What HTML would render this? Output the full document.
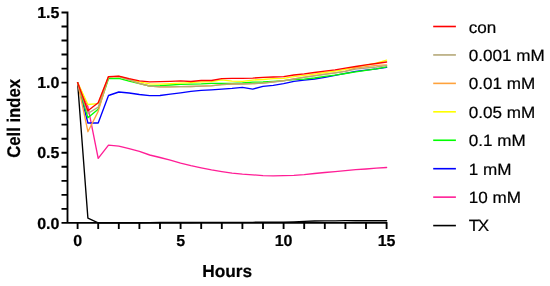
<!DOCTYPE html>
<html><head><meta charset="utf-8"><title>Cell index</title>
<style>html,body{margin:0;padding:0;background:#fff}svg{display:block}text{text-rendering:geometricPrecision;stroke:#000;stroke-width:0.2px;font-family:"Liberation Sans",Arial,sans-serif;fill:#000}</style></head><body>
<svg width="550" height="286" viewBox="0 0 550 286">
<rect width="550" height="286" fill="#fff"/>
<polyline points="77.6,82.6 87.9,218.1 98.2,222.9 108.5,222.9 118.8,222.9 129.1,222.9 139.4,222.8 149.7,222.6 160.0,222.5 170.3,222.5 180.6,222.5 190.9,222.5 201.2,222.3 211.5,222.3 221.8,222.3 232.1,222.3 242.4,222.3 252.7,222.3 263.0,222.2 273.3,222.2 283.6,222.1 293.9,221.8 304.2,221.4 314.5,221.0 324.8,220.9 335.1,220.8 345.4,220.7 355.7,220.7 366.0,220.7 376.3,220.7 386.6,220.7" fill="none" stroke="#000000" stroke-width="1.35" stroke-linejoin="round" stroke-linecap="round"/>
<polyline points="77.6,82.6 87.9,106.7 98.2,158.4 108.5,145.2 118.8,146.2 129.1,148.7 139.4,151.3 149.7,155.0 160.0,157.5 170.3,160.2 180.6,163.1 190.9,165.7 201.2,167.9 211.5,169.9 221.8,171.6 232.1,173.1 242.4,174.1 252.7,174.8 263.0,175.6 273.3,175.9 283.6,175.7 293.9,175.3 304.2,174.6 314.5,173.5 324.8,172.5 335.1,171.6 345.4,170.6 355.7,169.7 366.0,169.0 376.3,168.2 386.6,167.5" fill="none" stroke="#ff1e96" stroke-width="1.35" stroke-linejoin="round" stroke-linecap="round"/>
<polyline points="77.6,82.6 87.9,123.0 98.2,123.0 108.5,95.5 118.8,92.0 129.1,93.0 139.4,94.5 149.7,95.6 160.0,95.5 170.3,94.2 180.6,92.8 190.9,91.3 201.2,90.3 211.5,89.8 221.8,89.1 232.1,88.4 242.4,87.4 252.7,89.1 263.0,86.4 273.3,85.4 283.6,83.6 293.9,81.3 304.2,80.1 314.5,79.0 324.8,77.4 335.1,75.3 345.4,73.3 355.7,71.4 366.0,70.1 376.3,68.9 386.6,67.3" fill="none" stroke="#0000ff" stroke-width="1.35" stroke-linejoin="round" stroke-linecap="round"/>
<polyline points="77.6,82.6 87.9,117.7 98.2,109.3 108.5,78.7 118.8,78.3 129.1,81.2 139.4,83.6 149.7,86.0 160.0,85.7 170.3,85.0 180.6,84.4 190.9,84.1 201.2,83.9 211.5,83.4 221.8,83.4 232.1,83.4 242.4,83.0 252.7,82.2 263.0,82.0 273.3,81.3 283.6,80.6 293.9,79.5 304.2,79.1 314.5,78.0 324.8,76.4 335.1,75.2 345.4,73.5 355.7,71.9 366.0,70.4 376.3,68.9 386.6,66.9" fill="none" stroke="#00ff00" stroke-width="1.35" stroke-linejoin="round" stroke-linecap="round"/>
<polyline points="77.6,82.6 87.9,104.5 98.2,103.6 108.5,76.8 118.8,76.4 129.1,79.1 139.4,81.8 149.7,83.9 160.0,84.1 170.3,83.6 180.6,83.2 190.9,82.6 201.2,81.9 211.5,81.6 221.8,79.8 232.1,81.2 242.4,81.3 252.7,80.1 263.0,79.5 273.3,78.7 283.6,78.3 293.9,76.6 304.2,75.4 314.5,74.2 324.8,72.5 335.1,71.1 345.4,69.4 355.7,66.9 366.0,65.2 376.3,63.1 386.6,60.2" fill="none" stroke="#ffff00" stroke-width="1.35" stroke-linejoin="round" stroke-linecap="round"/>
<polyline points="77.6,82.6 87.9,131.7 98.2,111.4 108.5,77.0 118.8,76.6 129.1,79.8 139.4,83.4 149.7,86.2 160.0,86.8 170.3,86.8 180.6,86.7 190.9,86.5 201.2,86.2 211.5,85.7 221.8,84.6 232.1,84.0 242.4,83.9 252.7,83.6 263.0,83.2 273.3,81.9 283.6,80.6 293.9,78.8 304.2,77.1 314.5,75.7 324.8,74.2 335.1,72.8 345.4,71.2 355.7,68.0 366.0,66.7 376.3,65.3 386.6,64.9" fill="none" stroke="#ffa23c" stroke-width="1.35" stroke-linejoin="round" stroke-linecap="round"/>
<polyline points="77.6,82.6 87.9,113.5 98.2,107.2 108.5,76.8 118.8,76.4 129.1,79.7 139.4,83.4 149.7,86.2 160.0,86.8 170.3,86.8 180.6,86.7 190.9,86.5 201.2,86.1 211.5,85.8 221.8,84.7 232.1,84.1 242.4,84.0 252.7,83.7 263.0,83.2 273.3,82.0 283.6,80.8 293.9,79.0 304.2,77.3 314.5,75.9 324.8,74.3 335.1,72.9 345.4,71.4 355.7,69.1 366.0,68.0 376.3,67.0 386.6,65.6" fill="none" stroke="#b5a878" stroke-width="1.35" stroke-linejoin="round" stroke-linecap="round"/>
<polyline points="77.6,82.6 87.9,110.7 98.2,102.7 108.5,76.6 118.8,76.1 129.1,78.7 139.4,80.8 149.7,81.9 160.0,81.6 170.3,81.3 180.6,80.9 190.9,81.5 201.2,80.5 211.5,80.5 221.8,78.7 232.1,78.3 242.4,78.3 252.7,78.1 263.0,77.4 273.3,77.0 283.6,76.6 293.9,75.0 304.2,73.9 314.5,72.5 324.8,71.2 335.1,69.8 345.4,68.1 355.7,66.5 366.0,64.9 376.3,63.5 386.6,62.0" fill="none" stroke="#ff0000" stroke-width="1.35" stroke-linejoin="round" stroke-linecap="round"/>
<path d="M67.50,11.55 V223.80 M61.5,222.90 H387.5 M61.5,222.90 H67.6 M61.5,208.87 H67.6 M61.5,194.84 H67.6 M61.5,180.81 H67.6 M61.5,166.78 H67.6 M61.5,152.75 H67.6 M61.5,138.72 H67.6 M61.5,124.69 H67.6 M61.5,110.66 H67.6 M61.5,96.63 H67.6 M61.5,82.60 H67.6 M61.5,68.57 H67.6 M61.5,54.54 H67.6 M61.5,40.51 H67.6 M61.5,26.48 H67.6 M61.5,12.45 H67.6 M77.6,222.90 V229.1 M98.2,222.90 V229.1 M118.8,222.90 V229.1 M139.4,222.90 V229.1 M160.0,222.90 V229.1 M180.6,222.90 V229.1 M201.2,222.90 V229.1 M221.8,222.90 V229.1 M242.4,222.90 V229.1 M263.0,222.90 V229.1 M283.6,222.90 V229.1 M304.2,222.90 V229.1 M324.8,222.90 V229.1 M345.4,222.90 V229.1 M366.0,222.90 V229.1 M386.6,222.90 V229.1" stroke="#000" stroke-width="1.85" fill="none"/>
<text transform="translate(59.5,228.5) scale(1.01,1)" font-size="15.9" font-weight="bold" text-anchor="end">0.0</text>
<text transform="translate(59.5,158.3) scale(1.01,1)" font-size="15.9" font-weight="bold" text-anchor="end">0.5</text>
<text transform="translate(59.5,88.2) scale(1.01,1)" font-size="15.9" font-weight="bold" text-anchor="end">1.0</text>
<text transform="translate(59.5,18.0) scale(1.01,1)" font-size="15.9" font-weight="bold" text-anchor="end">1.5</text>
<text transform="translate(77.6,245.6) scale(1.01,1)" font-size="15.9" font-weight="bold" text-anchor="middle">0</text>
<text transform="translate(180.6,245.6) scale(1.01,1)" font-size="15.9" font-weight="bold" text-anchor="middle">5</text>
<text transform="translate(283.6,245.6) scale(1.01,1)" font-size="15.9" font-weight="bold" text-anchor="middle">10</text>
<text transform="translate(386.6,245.6) scale(1.01,1)" font-size="15.9" font-weight="bold" text-anchor="middle">15</text>
<text x="227.2" y="276.6" font-size="17.3" font-weight="bold" text-anchor="middle">Hours</text>
<text transform="translate(19.6,118.4) rotate(-90) scale(0.965,1.06)" font-size="17.3" font-weight="bold" text-anchor="middle">Cell index</text>
<line x1="433.2" y1="26.50" x2="455.9" y2="26.50" stroke="#ff0000" stroke-width="1.6"/>
<text transform="translate(468.7,32.50) scale(1.05,1)" font-size="16.3">con</text>
<line x1="433.2" y1="54.94" x2="455.9" y2="54.94" stroke="#b5a878" stroke-width="1.6"/>
<text transform="translate(468.7,60.90) scale(1.05,1)" font-size="16.3">0.001 mM</text>
<line x1="433.2" y1="83.38" x2="455.9" y2="83.38" stroke="#ffa23c" stroke-width="1.6"/>
<text transform="translate(468.7,89.30) scale(1.05,1)" font-size="16.3">0.01 mM</text>
<line x1="433.2" y1="111.82" x2="455.9" y2="111.82" stroke="#ffff00" stroke-width="1.6"/>
<text transform="translate(468.7,117.70) scale(1.05,1)" font-size="16.3">0.05 mM</text>
<line x1="433.2" y1="140.26" x2="455.9" y2="140.26" stroke="#00ff00" stroke-width="1.6"/>
<text transform="translate(468.7,146.10) scale(1.05,1)" font-size="16.3">0.1 mM</text>
<line x1="433.2" y1="168.70" x2="455.9" y2="168.70" stroke="#0000ff" stroke-width="1.6"/>
<text transform="translate(468.7,174.50) scale(1.05,1)" font-size="16.3">1 mM</text>
<line x1="433.2" y1="197.14" x2="455.9" y2="197.14" stroke="#ff1e96" stroke-width="1.6"/>
<text transform="translate(468.7,202.90) scale(1.05,1)" font-size="16.3">10 mM</text>
<line x1="433.2" y1="225.58" x2="455.9" y2="225.58" stroke="#000000" stroke-width="1.6"/>
<text transform="translate(468.7,231.30) scale(1.05,1)" font-size="16.3" letter-spacing="-1.3">TX</text>
</svg></body></html>
